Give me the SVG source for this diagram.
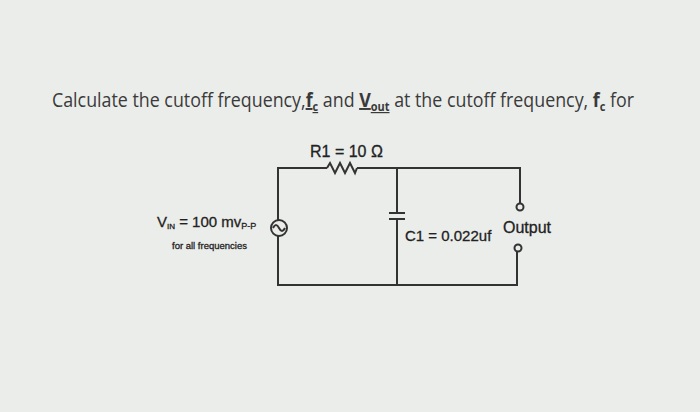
<svg xmlns="http://www.w3.org/2000/svg" width="700" height="412" viewBox="0 0 700 412">
<style>
.w{fill:none;stroke:#333;stroke-width:2}
.t{font-family:"Open Sans",sans-serif;fill:#3a3a3a}
.a{font-family:"Liberation Sans",Arial,sans-serif;fill:#222;stroke:#222;stroke-width:0.3}
</style>
<rect width="700" height="412" fill="#ebedea"/>
<text class="t" x="52" y="107" font-size="19.5" textLength="582" lengthAdjust="spacingAndGlyphs">Calculate the cutoff frequency,<tspan font-weight="bold" text-decoration="underline">f<tspan font-size="12" dy="4">c</tspan></tspan><tspan dy="-4"> and </tspan><tspan font-weight="bold" text-decoration="underline">V<tspan font-size="12" dy="4">out</tspan></tspan><tspan dy="-4"> at the cutoff frequency, </tspan><tspan font-weight="bold">f<tspan font-size="12" dy="4">c</tspan></tspan><tspan dy="-4">  for</tspan></text>
<g id="connectors">
<path class="w" d="M278,220 V168 H327 M357,168 H520 V203 M397,168 V213 M397,220 V285 M278,236 V285 H517 V252"/>
</g>
<g id="r1"><path class="w" d="M327,168 l3,-5 l5,10 l5,-10 l5,10 l5,-10 l5,10 l2,-5"/>
<text class="a" x="310" y="157" font-size="16">R1 = 10 Ω</text></g>
<g id="c1"><path class="w" d="M389,213 H405 M389,219 H405"/>
<text class="a" x="405" y="241" font-size="15">C1 = 0.022uf</text></g>
<g id="vin"><circle class="w" cx="279" cy="228" r="8"/><path class="w" stroke-width="1.5" d="M273,228 q3,-6 6,0 t6,0"/>
<text class="a" x="157" y="227" font-size="15">V<tspan font-size="8" dy="2">IN</tspan><tspan dy="-2"> = 100 mv</tspan><tspan font-size="9" dy="2">P-P</tspan></text>
<text class="a" x="172" y="249" font-size="9.5" stroke-width="0.15">for all frequencies</text></g>
<g id="out"><circle cx="520" cy="207" r="3.5" fill="#ebedea" stroke="#333" stroke-width="2"/><circle cx="518" cy="248" r="3.5" fill="#ebedea" stroke="#333" stroke-width="2"/>
<text class="a" x="503" y="233" font-size="16">Output</text></g>
</svg>
